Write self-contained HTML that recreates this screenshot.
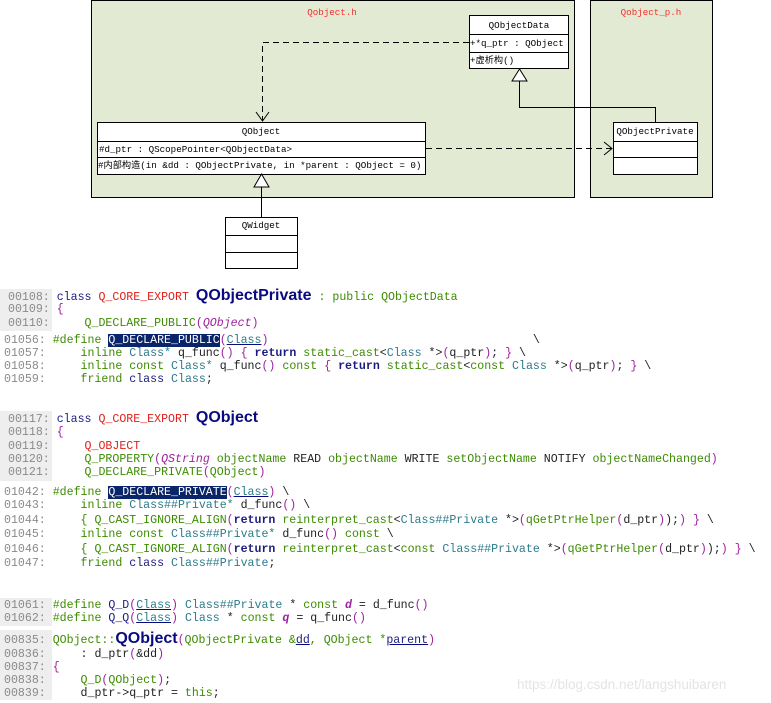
<!DOCTYPE html>
<html><head><meta charset="utf-8"><style>
body{margin:0;width:771px;height:703px;background:#fff;position:relative;overflow:hidden}
.l{position:absolute;left:4px;white-space:pre;font-family:"Liberation Mono","DejaVu Sans Mono",monospace;font-size:11.6px;line-height:13px;color:#222}
.n{color:#8a8a8a}.k{color:#1c1c80}.r{color:#e0201a}.g{color:#3c8c00}.p{color:#a020a0}.t{color:#2a7b8c}
.b{font-weight:bold}.big{font-family:"Liberation Sans",sans-serif;font-weight:bold;font-size:16px;color:#0a0a80}
.hl{background:#0a246a;color:#fff}.u{text-decoration:underline;text-decoration-color:#0a0a80}
.i{font-style:italic}
.strip{position:absolute;left:0;background:#eeeeee}
</style></head><body>
<svg width="771" height="275" style="position:absolute;left:0;top:0" font-family="Liberation Mono,Noto Sans CJK SC,monospace" font-size="9.2">
<rect x="91.5" y="0.5" width="483" height="197" fill="#e3ead3" stroke="#000"/>
<rect x="590.5" y="0.5" width="122" height="197" fill="#e3ead3" stroke="#000"/>
<text x="332" y="15" fill="#f03030" text-anchor="middle">Qobject.h</text>
<text x="651" y="15" fill="#f03030" text-anchor="middle">Qobject_p.h</text>
<g stroke="#000" fill="#fff">
<rect x="469.5" y="15.5" width="99" height="53"/><line x1="469" y1="34.5" x2="569" y2="34.5"/><line x1="469" y1="52.5" x2="569" y2="52.5"/>
<rect x="97.5" y="122.5" width="328" height="52"/><line x1="97" y1="141.5" x2="426" y2="141.5"/><line x1="97" y1="157.5" x2="426" y2="157.5"/>
<rect x="613.5" y="122.5" width="84" height="52"/><line x1="613" y1="141.5" x2="698" y2="141.5"/><line x1="613" y1="157.5" x2="698" y2="157.5"/>
<rect x="225.5" y="217.5" width="72" height="51"/><line x1="225" y1="235.5" x2="298" y2="235.5"/><line x1="225" y1="252.5" x2="298" y2="252.5"/>
</g>
<g fill="#000">
<text x="519" y="28" text-anchor="middle">QObjectData</text>
<text x="470" y="46">+*q_ptr : QObject</text>
<text x="470" y="63">+虚析构()</text>
<text x="261" y="134" text-anchor="middle">QObject</text>
<text x="99" y="152">#d_ptr : QScopePointer&lt;QObjectData&gt;</text>
<text x="98" y="168">#内部构造(in &amp;dd : QObjectPrivate, in *parent : QObject = 0)</text>
<text x="655" y="134" text-anchor="middle">QObjectPrivate</text>
<text x="261" y="228" text-anchor="middle">QWidget</text>
</g>
<g stroke="#000" fill="none">
<polyline points="469,42.5 262.5,42.5 262.5,121" stroke-dasharray="6,4"/>
<polyline points="256,112 262.5,121 269,112"/>
<line x1="426" y1="148.5" x2="612" y2="148.5" stroke-dasharray="6,4"/>
<polyline points="604,142 612,148.5 604,155"/>
<polyline points="519.5,81 519.5,107.5 655.5,107.5 655.5,122"/>
<polygon points="519.5,69 512,81 527,81" fill="#fff"/>
<line x1="261.5" y1="187" x2="261.5" y2="217"/>
<polygon points="261.5,174 254,187 269,187" fill="#fff"/>
</g>
</svg>
<div class="strip" style="top:289px;width:52px;height:42px"></div>
<div class="strip" style="top:411px;width:52px;height:70px"></div>
<div class="strip" style="top:598px;width:52px;height:28px"></div>
<div class="strip" style="top:630px;width:52px;height:70px"></div>

<div class="l" style="top:289px;left:8px"><span class="n">00108: </span><span class="k">class</span> <span class="r">Q_CORE_EXPORT</span> <span class="big">QObjectPrivate</span> <span class="g">: public QObjectData</span></div>
<div class="l" style="top:303px;left:8px"><span class="n">00109: </span><span class="p">{</span></div>
<div class="l" style="top:317px;left:8px"><span class="n">00110: </span>    <span class="g">Q_DECLARE_PUBLIC</span><span class="p">(<span class="i">QObject</span>)</span></div>
<div class="l" style="top:334px"><span class="n">01056: </span><span class="g">#define</span> <span class="hl">Q_DECLARE_PUBLIC</span><span class="p">(</span><span class="t u">Class</span><span class="p">)</span>                                      \</div>
<div class="l" style="top:347px"><span class="n">01057: </span>    <span class="g">inline</span> <span class="t">Class*</span> q_func<span class="p">()</span> <span class="p">{</span> <span class="k b">return</span> <span class="g">static_cast</span>&lt;<span class="t">Class</span> *&gt;<span class="p">(</span>q_ptr<span class="p">)</span>; <span class="p">}</span> \</div>
<div class="l" style="top:360px"><span class="n">01058: </span>    <span class="g">inline const</span> <span class="t">Class*</span> q_func<span class="p">()</span> <span class="g">const</span> <span class="p">{</span> <span class="k b">return</span> <span class="g">static_cast</span>&lt;<span class="g">const</span> <span class="t">Class</span> *&gt;<span class="p">(</span>q_ptr<span class="p">)</span>; <span class="p">}</span> \</div>
<div class="l" style="top:373px"><span class="n">01059: </span>    <span class="g">friend</span> <span class="k">class</span> <span class="t">Class</span>;</div>

<div class="l" style="top:411px;left:8px"><span class="n">00117: </span><span class="k">class</span> <span class="r">Q_CORE_EXPORT</span> <span class="big">QObject</span></div>
<div class="l" style="top:426px;left:8px"><span class="n">00118: </span><span class="p">{</span></div>
<div class="l" style="top:440px;left:8px"><span class="n">00119: </span>    <span class="r">Q_OBJECT</span></div>
<div class="l" style="top:453px;left:8px"><span class="n">00120: </span>    <span class="g">Q_PROPERTY</span><span class="p">(</span><span class="p i">QString</span> <span class="g">objectName</span> READ <span class="g">objectName</span> WRITE <span class="g">setObjectName</span> NOTIFY <span class="g">objectNameChanged</span><span class="p">)</span></div>
<div class="l" style="top:466px;left:8px"><span class="n">00121: </span>    <span class="g">Q_DECLARE_PRIVATE</span><span class="p">(</span><span class="g">QObject</span><span class="p">)</span></div>
<div class="l" style="top:486px"><span class="n">01042: </span><span class="g">#define</span> <span class="hl">Q_DECLARE_PRIVATE</span><span class="p">(</span><span class="t u">Class</span><span class="p">)</span> \</div>
<div class="l" style="top:499px"><span class="n">01043: </span>    <span class="g">inline</span> <span class="t">Class##Private*</span> d_func<span class="p">()</span> \</div>
<div class="l" style="top:514px"><span class="n">01044: </span>    <span class="g">{ Q_CAST_IGNORE_ALIGN</span><span class="p">(</span><span class="k b">return</span> <span class="g">reinterpret_cast</span>&lt;<span class="t">Class##Private</span> *&gt;<span class="p">(</span><span class="g">qGetPtrHelper</span><span class="p">(</span>d_ptr<span class="p">)</span>);<span class="p">)</span> <span class="p">}</span> \</div>
<div class="l" style="top:528px"><span class="n">01045: </span>    <span class="g">inline const</span> <span class="t">Class##Private*</span> d_func<span class="p">()</span> <span class="g">const</span> \</div>
<div class="l" style="top:543px"><span class="n">01046: </span>    <span class="g">{ Q_CAST_IGNORE_ALIGN</span><span class="p">(</span><span class="k b">return</span> <span class="g">reinterpret_cast</span>&lt;<span class="g">const</span> <span class="t">Class##Private</span> *&gt;<span class="p">(</span><span class="g">qGetPtrHelper</span><span class="p">(</span>d_ptr<span class="p">)</span>);<span class="p">)</span> <span class="p">}</span> \</div>
<div class="l" style="top:557px"><span class="n">01047: </span>    <span class="g">friend</span> <span class="k">class</span> <span class="t">Class##Private</span>;</div>

<div class="l" style="top:599px"><span class="n">01061: </span><span class="g">#define</span> <span class="k">Q_D</span><span class="p">(</span><span class="t u">Class</span><span class="p">)</span> <span class="t">Class##Private</span> * <span class="g">const</span> <span class="p i b">d</span> = d_func<span class="p">()</span></div>
<div class="l" style="top:612px"><span class="n">01062: </span><span class="g">#define</span> <span class="k">Q_Q</span><span class="p">(</span><span class="t u">Class</span><span class="p">)</span> <span class="t">Class</span> * <span class="g">const</span> <span class="p i b">q</span> = q_func<span class="p">()</span></div>
<div class="l" style="top:632px"><span class="n">00835: </span><span class="g">QObject::</span><span class="big">QObject</span><span class="p">(</span><span class="g">QObjectPrivate &amp;</span><span class="k u">dd</span><span class="g">, QObject *</span><span class="k u">parent</span><span class="p">)</span></div>
<div class="l" style="top:648px"><span class="n">00836: </span>    : d_ptr<span class="p">(</span>&amp;dd<span class="p">)</span></div>
<div class="l" style="top:661px"><span class="n">00837: </span><span class="p">{</span></div>
<div class="l" style="top:674px"><span class="n">00838: </span>    <span class="g">Q_D</span><span class="p">(</span><span class="g">QObject</span><span class="p">)</span>;</div>
<div class="l" style="top:687px"><span class="n">00839: </span>    d_ptr-&gt;q_ptr = <span class="g">this</span>;</div>
<div style="position:absolute;left:517px;top:677px;font-family:'Liberation Sans',sans-serif;font-size:13.5px;color:#e4e4e4">https://blog.csdn.net/langshuibaren</div>
</body></html>
